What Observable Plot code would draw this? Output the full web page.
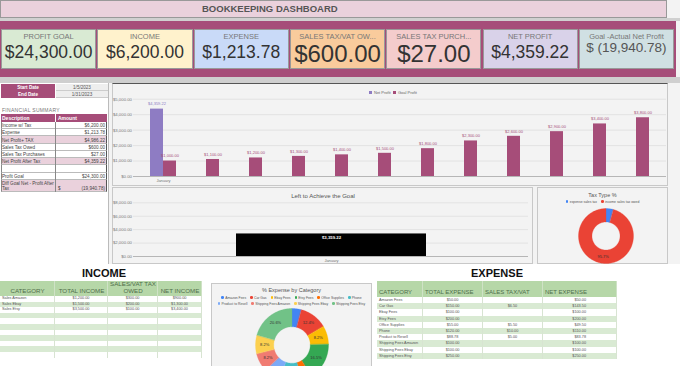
<!DOCTYPE html>
<html><head><meta charset="utf-8">
<script src="https://cdn.jsdelivr.net/npm/d3@7"></script>
<script src="https://cdn.jsdelivr.net/npm/@observablehq/plot@0.6"></script>
<style>
html,body{margin:0;padding:0}
body{width:680px;height:366px;overflow:hidden;position:relative;background:#f3f3f3;font-family:"Liberation Sans",Arial,sans-serif}
.a{position:absolute;box-sizing:border-box}
.card .lab{position:absolute;top:2px;left:3px;right:3px;text-align:center;font-size:7.5px;line-height:9px;color:#777;white-space:nowrap;overflow:hidden}
.card .val{position:absolute;left:0;right:0;text-align:center;color:#333;white-space:nowrap}
svg{overflow:visible}
</style></head><body>
<script>
// ---------- DATA ----------
const dashTitle = "BOOKKEEPING DASHBOARD";
const cardLabels = ["PROFIT GOAL","INCOME","EXPENSE","SALES TAX/VAT OW...","SALES TAX PURCH...","NET PROFIT","Goal -Actual Net Profit"];
const cardValues = [24300, 6200, 1213.78, 600, 27, 4359.22, -19940.78];

const dateLabels = ["Start Date","End Date"];
const dateValues = ["1/5/2023","1/31/2023"];

const summaryHeaders = ["Description","Amount"];
const summaryLabels = ["Income w/ Tax","Expense","Net Profit+ TAX","Sales Tax Owed","Sales Tax Purchases","Net Profit After Tax","","Profit Goal","Diff Goal Net - Profit After Tax"];
const summaryValues = [6200, 1213.78, 4986.22, 600, 27, 4359.22, null, 24300, -19940.78];

const months = ["January","February","March","April","May","June","July","August","September","October","November","December"];
const netProfitMonths = ["January"];
const netProfit = [4359.22];
const goalProfit = [1000,1100,1200,1300,1400,1500,1800,2300,2600,2900,3400,3800];
const seriesNames = ["Net Profit","Goal Profit"];
const barTicks = [0,1000,2000,3000,4000,5000];

const goalChartTitle = "Left to Achieve  the Goal";
const goalMonths = ["January"];
const leftToGoal = [3359.22];
const goalTicks = [0,2000,4000,6000,8000];

const taxTitle = "Tax Type %";
const taxTypes = ["expense sales tax","income sales tax owed"];
const taxValues = [27, 600];

const incomeHeaders = ["CATEGORY","TOTAL INCOME","SALES/VAT TAX OWED","NET INCOME"];
const incomeCategories = ["Sales Amazon","Sales Ebay","Sales Etsy"];
const incomeTotal = [1200,1500,3500];
const incomeTax = [300,200,100];
const incomeNet = [900,1300,3400];

const expenseTitleTxt = "% Expense by Category";
const expenseHeaders = ["CATEGORY","TOTAL EXPENSE","SALES TAX/VAT","NET EXPENSE"];
const expenseCategories = ["Amazon Fees","Car Gas","Ebay Fees","Etsy Fees","Office Supplies","Phone","Product to Resell","Shipping Fees Amazon","Shipping Fees Ebay","Shipping Fees Etsy"];
const expenseTotal = [50,150,100,200,55,120,88.78,100,100,250];
const expenseTax = [null,6.5,null,null,5.5,10,5,null,null,null];
const expenseNet = [50,143.5,100,200,49.5,110,83.78,100,100,250];

// ---------- STYLE ----------
const cardColors = ["#d9ead3","#fff2cc","#c9daf8","#f9cb9c","#f4cccc","#d9d2e9","#d0e0e3"];
const cardFont = [17.5,17.5,17.5,24,24,17.5,13.5];
const magenta = "#a64d79", purple = "#8e7cc3";
const googleColors = ["#4285f4","#ea4335","#fbbc04","#34a853","#ff6d01","#46bdc6","#7baaf7","#f07b72","#fcd04f","#71c287"];
const FONT = "Liberation Sans, Arial, sans-serif";

const money = d3.format("$,.2f");
const acct = v => v < 0 ? "$ (" + d3.format(",.2f")(-v) + ")" : money(v);

function el(tag, css, html, parent){
  const e = document.createElement(tag);
  e.className = "a";
  e.style.cssText = css;
  if (html != null) e.innerHTML = html;
  (parent || document.body).appendChild(e);
  return e;
}

// ---------- HEADER ----------
el("div","left:0;top:0;width:667px;height:18px;background:#ead1dc;border:1px solid #999;");
el("div","left:202px;top:3px;font-size:9.5px;font-weight:bold;color:#555;", dashTitle);
el("div","left:0;top:18px;width:680px;height:3px;background:#d0d0d0;");
el("div","left:0;top:21px;width:676px;height:56px;background:"+magenta+";");
el("div","left:0;top:77px;width:680px;height:6px;background:#cfcfcf;");
cardLabels.forEach((lab,i)=>{
  const c = el("div","left:"+(1+i*96.3)+"px;top:29px;width:95.3px;height:40px;background:"+cardColors[i]+";border:1px solid #999;");
  c.classList.add("card");
  const l = document.createElement("div"); l.className="lab"; l.textContent = lab; c.appendChild(l);
  const v = document.createElement("div"); v.className="val"; v.textContent = i===6 ? acct(cardValues[i]) : money(cardValues[i]);
  const fs = cardFont[i];
  v.style.fontSize = fs+"px";
  v.style.lineHeight = Math.round(fs*1.05)+"px";
  if (i===6){ v.style.color="#555"; v.style.top="11px"; }
  else if (fs>20){ v.style.top="11px"; }
  else { v.style.top="13px"; }
  c.appendChild(v);
});

// ---------- LEFT SUMMARY ----------
el("div","left:0;top:83px;width:109px;height:181px;background:#fff;border-right:1.5px solid #bbb;");
dateLabels.forEach((d,i)=>{
  const y = 84 + i*7.4;
  el("div","left:1px;top:"+y+"px;width:54px;height:7px;background:"+magenta+";color:#fff;font-size:4.6px;font-weight:bold;text-align:center;line-height:7px;",d);
  el("div","left:56px;top:"+y+"px;width:52px;height:7px;background:#eee;color:#555;font-size:4.6px;text-align:center;line-height:7px;border-bottom:0.5px solid #ccc;",dateValues[i]);
});
el("div","left:2px;top:107px;font-size:5px;color:#777;letter-spacing:0.3px;","FINANCIAL SUMMARY");
el("div","left:1px;top:114px;width:54px;height:8px;background:"+magenta+";color:#fff;font-size:5px;font-weight:bold;line-height:8px;padding-left:1px;",summaryHeaders[0]);
el("div","left:55px;top:114px;width:52px;height:8px;background:"+magenta+";color:#fff;font-size:5px;font-weight:bold;line-height:8px;padding-left:2px;border-left:0.5px solid #fff;",summaryHeaders[1]);
const sumRowH = [7.2,7.2,7.2,7.2,7.2,7.2,8,7,12];
let sy = 122;
summaryLabels.forEach((lab,i)=>{
  const h = sumRowH[i];
  const pink = (i===2||i===5||i===8);
  const bg = pink ? "#ead1dc" : "#fff";
  el("div","left:1px;top:"+sy+"px;width:106px;height:"+h+"px;background:"+bg+";border-bottom:0.5px solid #bbb;border-left:0.5px solid #888;border-right:0.8px solid #555;");
  el("div","left:2px;top:"+(sy+1.2)+"px;width:52px;font-size:4.6px;color:#444;line-height:5px;white-space:normal;",lab);
  el("div","left:55px;top:"+sy+"px;width:0.5px;height:"+h+"px;background:#888;");
  if (summaryValues[i]!=null){
    if (summaryValues[i] < 0){
      el("div","left:58px;top:"+(sy+h-6)+"px;font-size:4.6px;color:#444;","$");
      el("div","left:62px;top:"+(sy+h-6)+"px;width:43px;text-align:right;font-size:4.6px;color:#444;","("+d3.format(",.2f")(-summaryValues[i])+")");
    } else {
      el("div","left:56px;top:"+(sy+1.2)+"px;width:49px;text-align:right;font-size:4.6px;color:#444;",money(summaryValues[i]));
    }
  }
  sy += h;
});

// ---------- BAR CHART ----------
el("div","left:112px;top:83px;width:556px;height:103px;background:#f3f3f3;border:1px solid #c8c8c8;border-top:1.5px solid #555;");
el("div","left:369px;top:90.5px;width:3px;height:3px;background:"+purple+";");
el("div","left:374px;top:90px;font-size:4px;color:#666;",seriesNames[0]);
el("div","left:393px;top:90.5px;width:3px;height:3px;background:"+magenta+";");
el("div","left:398px;top:90px;font-size:4px;color:#666;",seriesNames[1]);
const netData = netProfitMonths.map((m,i)=>({month:m, value:netProfit[i]}));
const goalData = months.map((m,i)=>({month:m, value:goalProfit[i]}));
const barChart = Plot.plot({
  width:556, height:103, marginLeft:21, marginRight:2, marginTop:15.7, marginBottom:10,
  style:{background:"transparent", fontFamily:FONT, fontSize:"4.5px", color:"#666"},
  x:{domain:months, paddingInner:0.4, paddingOuter:0.35, axis:null, label:null},
  y:{domain:[0,5000], axis:null, label:null},
  marks:[
    Plot.gridY(barTicks,{stroke:"#d6d6d6", strokeOpacity:1, strokeWidth:0.6}),
    Plot.axisY(barTicks,{tickSize:0, tickPadding:1.5, tickFormat:money, fontSize:4.3, fill:"#777", label:null}),
    Plot.ruleY([0],{stroke:"#999", strokeWidth:0.6}),
    Plot.barY(netData,{x:"month", y:"value", fill:purple, insetRight:13}),
    Plot.barY(goalData,{x:"month", y:"value", fill:magenta, insetLeft:13}),
    Plot.text(netData,{x:"month", y:"value", text:d=>money(d.value), dx:-6.5, dy:-5, fill:purple, fontSize:4}),
    Plot.text(goalData,{x:"month", y:"value", text:d=>money(d.value), dx:6.5, dy:-5, fill:magenta, fontSize:4}),
    Plot.axisX([months[0]],{tickSize:0, tickPadding:3, fontSize:4, fill:"#777", label:null})
  ]
});
el("div","left:112px;top:83px;").appendChild(barChart);

// ---------- GOAL CHART ----------
el("div","left:112px;top:187px;width:421px;height:77px;background:#f3f3f3;border:1px solid #c8c8c8;");
el("div","left:223px;top:192.5px;width:200px;text-align:center;font-size:6px;color:#555;",goalChartTitle);
const goalChartData = goalMonths.map((m,i)=>({month:m, value:leftToGoal[i]}));
const goalChart = Plot.plot({
  width:421, height:77, marginLeft:21, marginRight:5, marginTop:15.3, marginBottom:8,
  style:{background:"transparent", fontFamily:FONT, fontSize:"4.5px", color:"#666"},
  x:{domain:goalMonths, padding:0.35, axis:null, label:null},
  y:{domain:[0,8000], axis:null, label:null},
  marks:[
    Plot.gridY(goalTicks,{stroke:"#d6d6d6", strokeOpacity:1, strokeWidth:0.6}),
    Plot.axisY(goalTicks,{tickSize:0, tickPadding:1.5, tickFormat:money, fontSize:4.3, fill:"#777", label:null}),
    Plot.ruleY([0],{stroke:"#999", strokeWidth:0.6}),
    Plot.barY(goalChartData,{x:"month", y:"value", fill:"#000"}),
    Plot.text(goalChartData,{x:"month", y:"value", text:d=>money(d.value), dy:4, fill:"#fff", fontWeight:"bold", fontSize:4.3}),
    Plot.axisX(goalMonths,{tickSize:0, tickPadding:3, fontSize:4, fill:"#777", label:null})
  ]
});
el("div","left:112px;top:187px;").appendChild(goalChart);

// ---------- DONUT helper ----------
// labelMinY: slice labels lying in the part of the donut that the reference crops away are left out
function donut(values, keys, colors, rInner, R, labelMin, labelMinY){
  const arcs = d3.pie().sort(null).value(d=>d)(values);
  const pts = [];
  arcs.forEach((a,i)=>{
    const n = Math.max(2, Math.ceil((a.endAngle-a.startAngle)/0.02));
    for(let k=0;k<=n;k++){const t=a.startAngle+(a.endAngle-a.startAngle)*k/n; pts.push({key:keys[i], x:Math.sin(t), y:Math.cos(t)});}
    for(let k=n;k>=0;k--){const t=a.startAngle+(a.endAngle-a.startAngle)*k/n; pts.push({key:keys[i], x:rInner*Math.sin(t), y:rInner*Math.cos(t)});}
  });
  const total = d3.sum(values);
  const labels = arcs.filter(a=>a.value/total>=labelMin).map(a=>{
    const t=(a.startAngle+a.endAngle)/2, r=(1+rInner)/2;
    return {x:r*Math.sin(t), y:r*Math.cos(t), text:d3.format(".1%")(a.value/total)};
  }).filter(d=>d.y>=labelMinY);
  return Plot.plot({
    width:2*R+2, height:2*R+2, margin:1,
    style:{background:"transparent", fontFamily:FONT},
    x:{domain:[-1,1], axis:null}, y:{domain:[-1,1], axis:null},
    color:{domain:keys, range:colors},
    marks:[
      Plot.line(pts,{x:"x", y:"y", z:"key", fill:"key", stroke:"key", strokeWidth:0.3, curve:"linear-closed"}),
      Plot.text(labels,{x:"x", y:"y", text:"text", fill:"#333", fontSize:4})
    ]
  });
}

// ---------- TAX DONUT ----------
el("div","left:537px;top:187px;width:131px;height:77px;background:#f3f3f3;border:1px solid #c8c8c8;");
el("div","left:537px;top:192px;width:131px;text-align:center;font-size:5.5px;color:#555;",taxTitle);
const taxLeg = el("div","left:537px;top:199.5px;width:131px;display:flex;justify-content:center;gap:4px;font-size:3.4px;color:#555;");
taxTypes.forEach((t,i)=>{ const s=document.createElement("span"); s.innerHTML='<span style="display:inline-block;width:2.6px;height:2.6px;border-radius:50%;background:'+googleColors[i]+';margin-right:1.5px;vertical-align:middle"></span>'+t; taxLeg.appendChild(s); });
el("div","left:576.5px;top:206.5px;").appendChild(donut(taxValues, taxTypes, googleColors.slice(0,2), 0.51, 27.5, 0.5, -1));

// ---------- BOTTOM AREA ----------
el("div","left:0;top:264px;width:211px;height:102px;background:#fff;");
el("div","left:372px;top:264px;width:308px;height:102px;background:#fff;");
el("div","left:211px;top:264px;width:161px;height:19px;background:#fff;");
el("div","left:0;top:267px;width:208px;text-align:center;font-size:11px;font-weight:bold;color:#111;","INCOME");
el("div","left:377px;top:267px;width:240px;text-align:center;font-size:11px;font-weight:bold;color:#111;","EXPENSE");

function table(x0, y0, colW, headH, rowH, nRows, headers, rows, aligns, headStyle){
  let x = x0;
  headers.forEach((h,j)=>{
    el("div","left:"+x+"px;top:"+y0+"px;width:"+colW[j]+"px;height:"+headH+"px;background:#b6d7a8;border-right:0.6px solid #cfe2c6;display:flex;align-items:flex-end;justify-content:"+(headStyle.center?"center":"flex-start")+";text-align:"+(headStyle.center?"center":"left")+";padding:0 1px 2px 2px;line-height:1.05;color:#4f6e4a;font-size:"+headStyle.size+"px;",h);
    x += colW[j];
  });
  for(let r=0;r<nRows;r++){
    const y = y0+headH+r*rowH;
    let xx = x0;
    colW.forEach((w,j)=>{
      const txt = rows[r] ? rows[r][j] : "";
      el("div","left:"+xx+"px;top:"+y+"px;width:"+w+"px;height:"+rowH+"px;background:"+(r%2?"#d9ead3":"#fff")+";border-right:0.6px solid #d8e4d2;font-size:3.8px;color:#555;line-height:"+rowH+"px;padding:0 "+(aligns[j]==="right"?"30px":"2px")+" 0 2px;text-align:"+aligns[j]+";white-space:nowrap;overflow:hidden;",txt);
      xx += w;
    });
  }
}
const incomeRows = incomeCategories.map((c,i)=>[c, money(incomeTotal[i]), money(incomeTax[i]), money(incomeNet[i])]);
table(0, 281, [55,53,50,44], 15, 5.6, 11, incomeHeaders, incomeRows, ["left","center","center","center"], {center:true, size:6.2});
const expenseRows = expenseCategories.map((c,i)=>[c, money(expenseTotal[i]), expenseTax[i]==null?"":money(expenseTax[i]), money(expenseNet[i])]);
table(377, 281, [46,60,60,74], 16, 6.2, 10, expenseHeaders, expenseRows, ["left","center","center","right"], {center:false, size:6});

// ---------- EXPENSE DONUT ----------
el("div","left:211px;top:283px;width:161px;height:90px;background:#f3f3f3;border:1px solid #c8c8c8;");
el("div","left:211px;top:287px;width:161px;text-align:center;font-size:5.5px;color:#555;",expenseTitleTxt);
const legRows = [expenseCategories.slice(0,6), expenseCategories.slice(6)];
legRows.forEach((row,ri)=>{
  const lg = el("div","left:211px;top:"+(295.5+ri*6)+"px;width:161px;display:flex;justify-content:center;gap:4px;font-size:3.4px;color:#555;white-space:nowrap;");
  row.forEach((t)=>{ const i=expenseCategories.indexOf(t); const s=document.createElement("span"); s.innerHTML='<span style="display:inline-block;width:2.6px;height:2.6px;border-radius:50%;background:'+googleColors[i]+';margin-right:1.2px;vertical-align:middle"></span>'+t; lg.appendChild(s); });
});
el("div","left:254px;top:307px;").appendChild(donut(expenseTotal, expenseCategories, googleColors, 0.5, 36.5, 0.05, -0.5));
</script>
</body></html>
